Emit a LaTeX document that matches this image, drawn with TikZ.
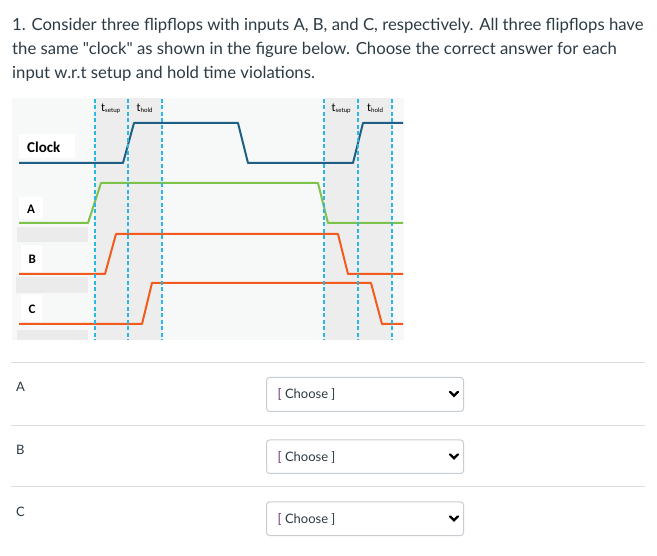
\documentclass[tikz,border=0pt]{standalone}
\usepackage{fontspec}
\setmainfont{Lato}
\newfontfamily\latoq{Lato}
\newfontfamily\carl{Carlito}
\definecolor{txt}{HTML}{2D3B45}
\definecolor{diagbg}{HTML}{F7F8F8}
\definecolor{band}{HTML}{EDEDED}
\definecolor{lblbox}{HTML}{EBEBEB}
\definecolor{clk}{HTML}{1F5F86}
\definecolor{sigA}{HTML}{7DC24B}
\definecolor{sigB}{HTML}{F25A1E}
\definecolor{guidec}{HTML}{2BB7E3}
\definecolor{sepc}{HTML}{DCDCDC}
\definecolor{boxc}{HTML}{C7CDD1}
\definecolor{brk}{HTML}{6B2A7A}
\begin{document}
\begin{tikzpicture}[x=1pt,y=-1pt,
  qtext/.style={anchor=base west, inner sep=0pt, font=\latoq\fontsize{16.7}{20}\selectfont, text=txt},
  rowlbl/.style={anchor=base west, inner sep=0pt, font=\fontsize{13}{15}\selectfont, text=txt},
  sellbl/.style={anchor=base west, inner sep=0pt, font=\fontsize{13}{15}\selectfont, text=txt},
  siglbl/.style={anchor=base west, inner sep=0pt, text=black},
  tlbl/.style={anchor=base west, inner sep=0pt, text=black, font=\carl\fontsize{12}{12}\selectfont},
  sig/.style={line width=2pt, line join=round},
  guide/.style={draw=guidec, line width=1.6pt, dash pattern=on 4pt off 2.5pt},
  sepline/.style={draw=sepc, line width=1pt},
  selbox/.style={draw=boxc, line width=1pt, rounded corners=3pt, fill=white},
  chev/.style={draw=black, line width=2.2pt, line cap=round, line join=miter}]
\useasboundingbox[fill=white] (0,0) rectangle (657,556);

% question text
\node[qtext] (q1) at (12,31) {1. Consider three flipflops with inputs A, B, and C, respectively. All three flipflops have};
\node[qtext] (q2) at (12,55) {the same "clock" as shown in the figure below. Choose the correct answer for each};
\node[qtext] (q3) at (12,79) {input w.r.t setup and hold time violations.};

% diagram background
\fill[diagbg] (12,98) rectangle (404,340);
\fill[band] (95,98) rectangle (162,340);
\fill[band] (324,98) rectangle (392,340);
\fill[lblbox] (17,227) rectangle (88,242);
\fill[lblbox] (16,277) rectangle (88,293);
\fill[lblbox] (17,330) rectangle (88,340);
\fill[white] (19,134) rectangle (75,158);
\fill[white] (19,197) rectangle (43,219);
\fill[white] (21,245) rectangle (42,272);
\fill[white] (21,295) rectangle (42,322);

% labels
\node[siglbl, font=\carl\bfseries\fontsize{15}{15}\selectfont] (lclk) at (27,152.3) {Clock};
\node[siglbl, font=\carl\bfseries\fontsize{13}{13}\selectfont] (lA) at (27,213.5) {A};
\node[siglbl, font=\carl\bfseries\fontsize{13}{13}\selectfont] (lB) at (28.3,263.3) {B};
\node[siglbl, font=\carl\bfseries\fontsize{13}{13}\selectfont] (lC) at (28.3,314) {C};

% signals
\draw[sig, clk] (19,163) -- (123,163) -- (134,123) -- (238,123) -- (248,163) -- (353,163) -- (363,123) -- (403,123);
\draw[sig, sigA] (19,223) -- (88,223) -- (101,183) -- (318,183) -- (328,223) -- (403,223);
\draw[sig, sigB] (19,274) -- (105,274) -- (116,234) -- (338,234) -- (348,274) -- (403,274);
\draw[sig, sigB] (19,324) -- (142,324) -- (152,283) -- (371,283) -- (382,324) -- (403,324);

% guide lines
\foreach \gx in {95,128,162,324,358,392}
  \draw[guide] (\gx,99) -- (\gx,340);

% timing labels
\node[tlbl] (ts1) at (101,111.7) {t\raisebox{-1pt}{\fontsize{6.6}{7}\selectfont setup}};
\node[tlbl] (th1) at (136.5,111.7) {t\raisebox{-1pt}{\fontsize{6.6}{7}\selectfont hold}};
\node[tlbl] (ts2) at (331.5,111.7) {t\raisebox{-1pt}{\fontsize{6.6}{7}\selectfont setup}};
\node[tlbl] (th2) at (367,111.7) {t\raisebox{-1pt}{\fontsize{6.6}{7}\selectfont hold}};

% answer rows
\draw[sepline] (11,363) -- (645,363);
\draw[sepline] (11,426) -- (645,426);
\draw[sepline] (11,487) -- (645,487);

\node[rowlbl] (rA) at (16,392) {A};
\node[rowlbl] (rB) at (16,455) {B};
\node[rowlbl] (rC) at (16,517) {C};

\draw[selbox] (266.5,377.5) rectangle (463.5,411.5);
\draw[selbox] (266.5,440) rectangle (463.5,473.5);
\draw[selbox] (266.5,502) rectangle (463.5,535.5);

\node[sellbl] (sA) at (277.5,398.5) {\textcolor{brk}{[} Choose ]};
\node[sellbl] (sB) at (277.5,461) {\textcolor{brk}{[} Choose ]};
\node[sellbl] (sC) at (277.5,523) {\textcolor{brk}{[} Choose ]};

\draw[chev] (450,391.8) -- (454,395.8) -- (458,391.8);
\draw[chev] (450,454.3) -- (454,458.3) -- (458,454.3);
\draw[chev] (450,516.3) -- (454,520.3) -- (458,516.3);
\end{tikzpicture}
\end{document}
